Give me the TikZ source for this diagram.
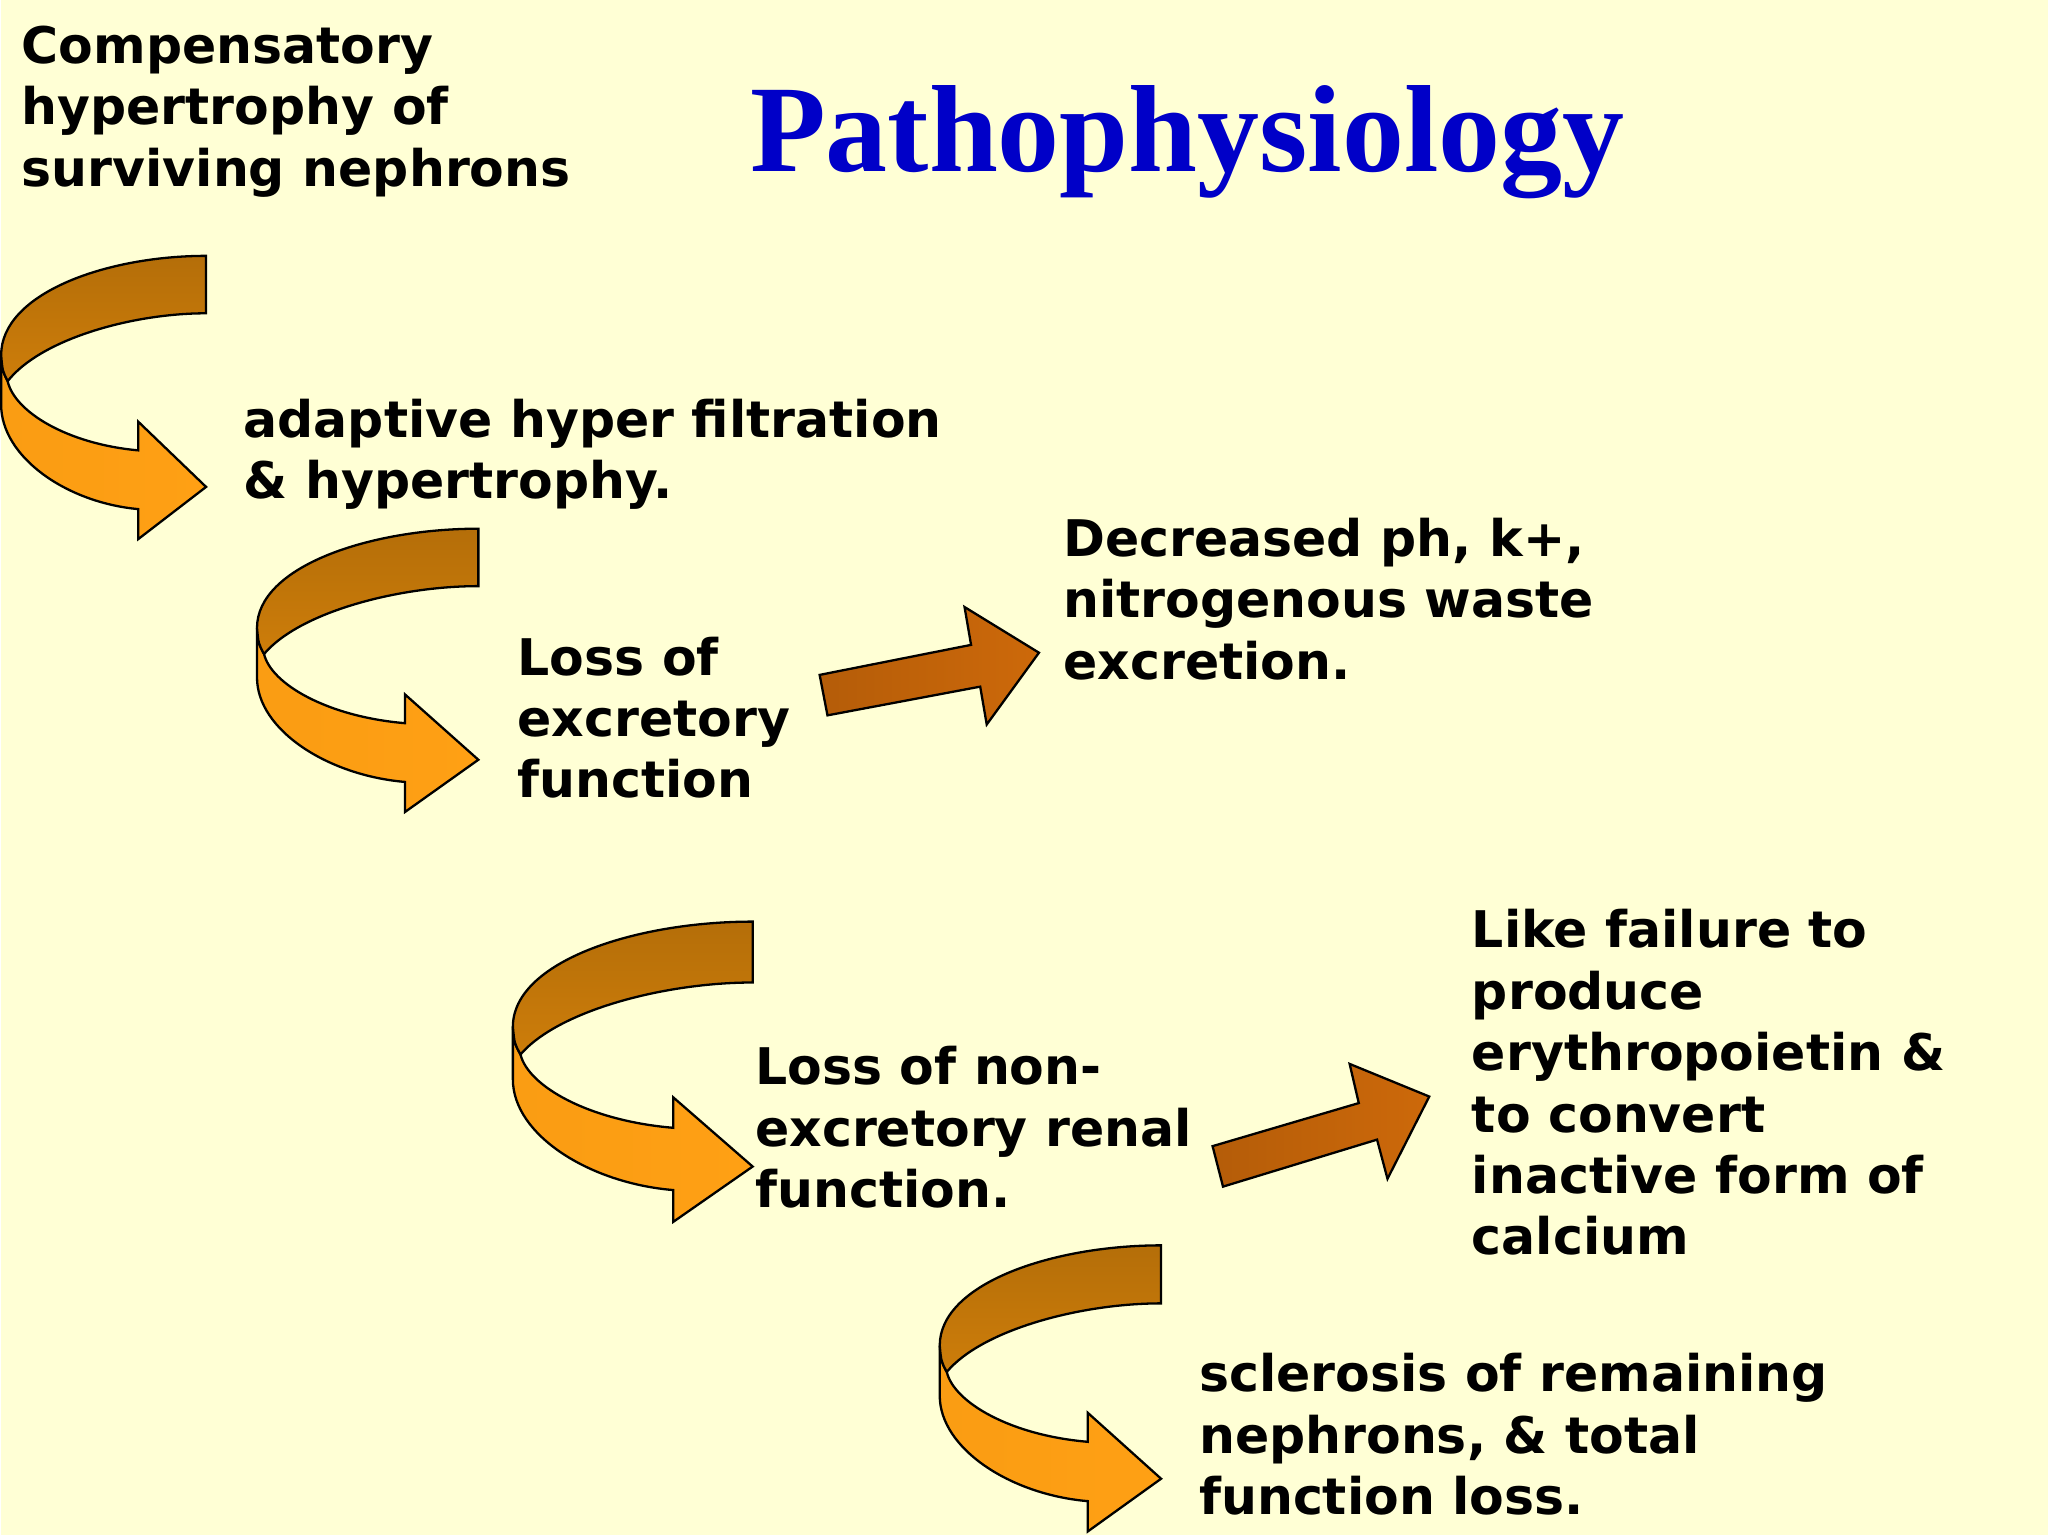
\documentclass[tikz,border=0pt]{standalone}
\usepackage{fontspec}
\setmainfont{DejaVu Sans}
\newfontfamily\titlefont{Liberation Serif}
\definecolor{bgc}{RGB}{255,255,213}
\definecolor{brn}{RGB}{205,125,10}
\definecolor{org}{RGB}{255,160,20}
\definecolor{sbrn}{RGB}{205,105,10}
\definecolor{ttl}{RGB}{0,0,200}
\tikzset{
 txt/.style={anchor=north west,inner sep=0pt,align=left,font=\bfseries\fontsize{11}{13.38}\selectfont},
 top/.style={draw=black,line width=0.5pt,top color=brn!88!black,bottom color=brn},
 front/.style={draw=black,line width=0.5pt,left color=org!90!brn,right color=org},
 sarrow/.style={draw=black,line width=0.5pt,left color=sbrn!88!black,right color=sbrn}
}
\newcommand{\curvearrow}[5]{%
\begin{scope}[shift={(#1,#2)},xscale=#3,yscale=#4]
\path[front] (0,76) -- (0,114) .. controls (0,154) and (50,189) .. (105,194) -- (105,217) -- (157,177) -- (105,127) -- (105,149) .. controls (50,144) and (10,119) .. (5,96) .. controls (1,88) .. (0,76) -- cycle;
\path[top] (157,0) .. controls (80,0) and (0,29) .. (0,76) .. controls (1,88) .. (5,96) .. controls (30,64) and (100,44) .. (157,44) -- cycle;
\coordinate (#5) at (157,177);
\end{scope}}
\begin{document}
\begin{tikzpicture}[x=0.01cm,y=-0.01cm]
\fill[bgc] (0,0) rectangle (1568,1176);
\node[anchor=base west,inner sep=0pt,text=ttl,font=\titlefont\bfseries\fontsize{27}{30}\selectfont] (title) at (573,131) {Pathophysiology};
\curvearrow{0}{196}{1}{1}{c1}
\curvearrow{196}{405}{1.08}{1}{c2}
\curvearrow{392}{706}{1.17}{1.06}{c3}
\curvearrow{719}{954}{1.08}{1.01}{c4}
\path[sarrow] (627,517) -- (743,494) -- (738,465) -- (795,500) -- (755,555) -- (750,526) -- (633,548) -- cycle;
\path[sarrow] (928,878) -- (1040,845) -- (1033,815) -- (1094,840) -- (1062,903) -- (1054,873) -- (936,909) -- cycle;
\node[txt] (t1) at (15,19) {Compensatory\\hypertrophy of\\surviving nephrons};
\node[txt] (t2) at (185,305) {adaptive hyper filtration\\\& hypertrophy.};
\node[txt] (t3) at (813,396) {Decreased ph, k+,\\nitrogenous waste\\excretion.};
\node[txt] (t4) at (395,487) {Loss of\\excretory\\function};
\node[txt] (t5) at (577,801) {Loss of non-\\excretory renal\\function.};
\node[txt] (t6) at (1126,696) {Like failure to\\produce\\erythropoietin \&\\to convert\\inactive form of\\calcium};
\node[txt] (t7) at (917,1036) {sclerosis of remaining\\nephrons, \& total\\function loss.};
\end{tikzpicture}
\end{document}
